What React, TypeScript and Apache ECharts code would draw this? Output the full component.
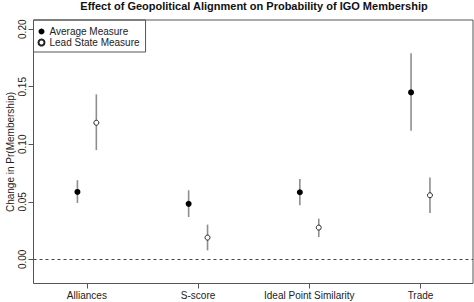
import React, { useEffect, useRef } from "react";
import * as echarts from "echarts";

// Categories of geopolitical alignment
const categories = ["Alliances", "S-score", "Ideal Point Similarity", "Trade"];

// Average measure: point estimate and 95% interval
const avgEst = [0.0586, 0.0482, 0.0583, 0.1451];
const avgLo = [0.049, 0.0368, 0.047, 0.1117];
const avgHi = [0.0688, 0.06, 0.0699, 0.1791];

// Lead state measure: point estimate and 95% interval
const leadEst = [0.1187, 0.0189, 0.0276, 0.0557];
const leadLo = [0.0949, 0.0078, 0.0194, 0.0403];
const leadHi = [0.1434, 0.0302, 0.0354, 0.0711];

const yTicks = [0, 0.05, 0.1, 0.15, 0.2];

const OFFSET = 0.085;
const FONT = "'Liberation Sans', Arial, Helvetica, sans-serif";

function intervals(lo: number[], hi: number[], shift: number) {
  return categories.map((_, i) => [i + 1 + shift, lo[i], hi[i]]);
}

function points(est: number[], shift: number) {
  return categories.map((_, i) => [i + 1 + shift, est[i]]);
}

const renderInterval = (params: any, api: any) => {
  const x = api.value(0);
  const p1 = api.coord([x, api.value(1)]);
  const p2 = api.coord([x, api.value(2)]);
  return {
    type: "line",
    shape: { x1: p1[0], y1: p1[1], x2: p2[0], y2: p2[1] },
    style: { stroke: "#8e8e8e", lineWidth: 1.6 },
  };
};

export default function App() {
  const ref = useRef<HTMLDivElement>(null);

  useEffect(() => {
    if (!ref.current) return;
    const chart = echarts.init(ref.current, undefined, { renderer: "svg" });
    chart.setOption({
      animation: false,
      backgroundColor: "#ffffff",
      textStyle: { fontFamily: FONT },
      grid: {
        left: 33.5,
        right: 1,
        top: 20,
        bottom: 18.5,
        containLabel: false,
        outerBoundsMode: "none",
        show: true,
        borderColor: "#555",
        borderWidth: 1,
        backgroundColor: "transparent",
      },
      graphic: [
        {
          type: "text",
          x: 254,
          y: 6,
          style: {
            text: "Effect of Geopolitical Alignment on Probability of IGO Membership",
            fill: "#111",
            font: `bold 11px ${FONT}`,
            textAlign: "center",
            textVerticalAlign: "middle",
          },
        },
        {
          // y-axis title, rotated to read bottom to top
          type: "text",
          x: 10,
          y: 152,
          rotation: Math.PI / 2,
          style: {
            text: "Change in Pr(Membership)",
            fill: "#222",
            font: `10px ${FONT}`,
            textAlign: "center",
            textVerticalAlign: "middle",
          },
        },
      ],
      legend: {
        left: 33.5,
        top: 20,
        orient: "vertical",
        padding: [6, 6, 4, 4],
        itemGap: 0,
        itemWidth: 6,
        itemHeight: 6,
        borderColor: "#555",
        borderWidth: 1,
        textStyle: { fontSize: 10, color: "#222", lineHeight: 11, fontFamily: FONT },
        data: ["Average Measure", "Lead State Measure"],
      },
      xAxis: {
        type: "value",
        min: 0.52,
        max: 4.472,
        splitLine: { show: false },
        axisLine: { show: false, onZero: false },
        axisTick: {
          show: true,
          length: 5,
          lineStyle: { color: "#555" },
          customValues: [1, 2, 3, 4],
        },
        axisLabel: {
          customValues: [1, 2, 3, 4],
          formatter: (v: number) => categories[Math.round(v) - 1] ?? "",
          fontSize: 10,
          color: "#222",
          margin: 7,
        },
      },
      yAxis: {
        type: "value",
        min: -0.021,
        max: 0.208,
        splitLine: { show: false },
        axisLine: { show: false, onZero: false },
        axisTick: {
          show: true,
          length: 5,
          lineStyle: { color: "#555" },
          customValues: yTicks,
        },
        axisLabel: {
          customValues: yTicks,
          rotate: 90,
          formatter: (v: number) => v.toFixed(2),
          fontSize: 10,
          color: "#222",
          margin: 6,
        },
      },
      series: [
        {
          type: "custom",
          name: "avgCI",
          renderItem: renderInterval,
          data: intervals(avgLo, avgHi, -OFFSET),
          z: 1,
          markLine: {
            silent: true,
            symbol: "none",
            label: { show: false },
            lineStyle: { type: [3, 3], color: "#444", width: 1 },
            data: [{ yAxis: 0 }],
          },
        },
        {
          type: "custom",
          name: "leadCI",
          renderItem: renderInterval,
          data: intervals(leadLo, leadHi, OFFSET),
          z: 1,
        },
        {
          type: "scatter",
          name: "Average Measure",
          data: points(avgEst, -OFFSET),
          symbol: "circle",
          symbolSize: 6,
          itemStyle: { color: "#000", opacity: 1 },
          z: 3,
        },
        {
          type: "scatter",
          name: "Lead State Measure",
          data: points(leadEst, OFFSET),
          symbol: "circle",
          symbolSize: 5,
          itemStyle: { color: "#fff", borderColor: "#222", borderWidth: 1, opacity: 1 },
          z: 3,
        },
      ],
    });
    return () => chart.dispose();
  }, []);

  return (
    <div
      ref={ref}
      style={{ position: "fixed", left: 0, top: 0, width: 474, height: 302 }}
    />
  );
}
